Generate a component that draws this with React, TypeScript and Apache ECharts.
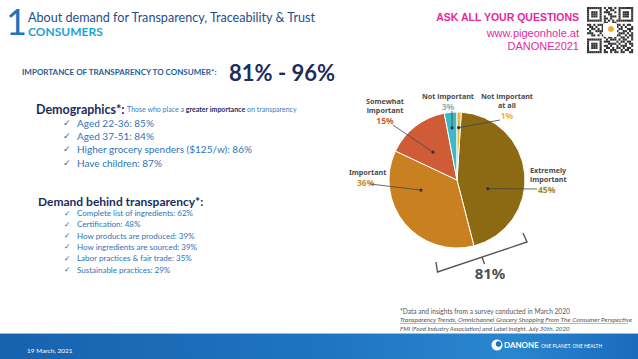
import React, { useEffect, useRef } from "react";
import * as echarts from "echarts";

// ---- data ----
const sliceNames = ["Extremely important", "Important", "Somewhat important", "Not important", "Not important at all"];
const sliceValues = [45, 36, 15, 3, 1];
const sliceLabels = [
  ["Extremely", "important"],
  ["Important"],
  ["Somewhat", "important"],
  ["Not important"],
  ["Not important", "at all"],
];
const bracketLabel = "81%";
const demographics = ["Aged 22-36: 85%", "Aged 37-51: 84%", "Higher grocery spenders ($125/w): 86%", "Have children: 87%"];
const demandItems = [
  "Complete list of ingredients: 62%",
  "Certification: 48%",
  "How products are produced: 39%",
  "How ingredients are sourced: 39%",
  "Labor practices & fair trade: 35%",
  "Sustainable practices: 29%",
];

// ---- style / layout ----
const sliceColors = ["#8C6A14", "#C98021", "#CF5C36", "#3DBAC8", "#F0B232"];
const pctColors = ["#A4862A", "#D08A2E", "#D2603A", "#93AEB4", "#F0B232"];
const CX = 457, CY = 180, R = 68, START = 86.4;
const dotShift = [-21, -24, 3, 0, 0];
const dotR = [0.47, 0.55, 0.54, 0.77, 0.77];
const lineEnds = [[537, 189], [370, 184], [393, 125], [452, 111], [500, 120]];
const labelPos = [
  { x: 530, y: 166, align: "left" },
  { x: 349, y: 168, align: "left" },
  { x: 385, y: 97, align: "center" },
  { x: 448, y: 92, align: "center" },
  { x: 507, y: 92, align: "center" },
];

const TXT = "Lato, 'Noto Sans', sans-serif";
const QR = [
  "1111111010110101111111",
  "1000001001011001000001",
  "1011101011100101011101",
  "1011101000110001011101",
  "1011101010011101011101",
  "1000001011010001000001",
  "1111111010101011111111",
  "0000000011001100000000",
  "1101011100111011010110",
  "0110100111000110101001",
  "1011010100000101100111",
  "0100111100000010011010",
  "1110001000000101110101",
  "0011010110100011001011",
  "0000000010110100110101",
  "1111111001011101011001",
  "1000001011100010110110",
  "1011101000111101001011",
  "1011101011010010111001",
  "1011101001101011010110",
  "1000001010011100101101",
  "1111111011010110110011",
];

export default function App() {
  const ref = useRef<HTMLDivElement>(null);
  useEffect(() => {
    const chart = echarts.init(ref.current!, null, { renderer: "svg" });
    const total = sliceValues.reduce((a, b) => a + b, 0);
    let cum = 0;
    const mids = sliceValues.map((v) => {
      const m = START - ((cum + v / 2) / total) * 360;
      cum += v;
      return m;
    });
    const dots = mids.map((m, i) => {
      const a = ((m + dotShift[i]) * Math.PI) / 180;
      const r = R * dotR[i];
      return [CX + r * Math.cos(a), CY - r * Math.sin(a)];
    });

    const g: any[] = [];
    const txt = (x: number, y: number, text: string, o: any = {}) =>
      g.push({
        type: "text",
        x,
        y,
        silent: true,
        style: {
          text,
          fill: o.fill || "#2E73B8",
          fontSize: o.size || 10,
          fontWeight: o.weight || "normal",
          fontStyle: o.italic ? "italic" : "normal",
          fontFamily: o.family || TXT,
          align: o.align || "left",
          verticalAlign: "middle",
          rich: o.rich,
        },
      });

    // header
    txt(6, 21, "1", { size: 36, fill: "#1C74BA", weight: "normal", family: "Lato" });
    txt(28, 17, "About demand for Transparency, Traceability & Trust", { size: 12.6, fill: "#1F4E8C" });
    txt(28, 31, "CONSUMERS", { size: 12, fill: "#1DA1D9", weight: "bold" });
    txt(579, 17, "ASK ALL YOUR QUESTIONS", { size: 10.5, fill: "#E5299E", weight: "bold", align: "right", family: "'Liberation Sans', Arial" });
    txt(579, 33, "www.pigeonhole.at", { size: 11, fill: "#E5299E", align: "right", family: "'Liberation Sans', Arial" });
    txt(579, 46, "DANONE2021", { size: 11, fill: "#E5299E", align: "right", family: "'Liberation Sans', Arial" });

    // QR
    const qs = 2.1;
    g.push({ type: "rect", shape: { x: 585, y: 5, width: 50, height: 50 }, style: { fill: "#fff" }, silent: true });
    QR.forEach((row, r) =>
      row.split("").forEach((c, k) => {
        if (c === "1")
          g.push({ type: "rect", silent: true, shape: { x: 587 + k * qs, y: 7 + r * qs, width: qs, height: qs }, style: { fill: "#333" } });
      })
    );
    g.push({ type: "rect", silent: true, shape: { x: 603, y: 23, width: 14, height: 14, r: 2 }, style: { fill: "#fff" } });
    g.push({ type: "circle", silent: true, shape: { cx: 611, cy: 29, r: 3 }, style: { fill: "#F0A830" } });

    // importance
    txt(22, 72, "IMPORTANCE OF TRANSPARENCY TO CONSUMER*:", { size: 8, weight: "bold", fill: "#1F5C99" });
    txt(229, 72, "81% - 96%", { size: 22, weight: "bold", fill: "#1B2D5E" });

    // demographics
    txt(36, 109, "{h|Demographics*:} {s|Those who place a }{b|greater importance}{s| on transparency}", {
      rich: {
        h: { fontSize: 12.5, fontWeight: "bold", fill: "#1B2D5E", fontFamily: TXT },
        s: { fontSize: 7, fill: "#3A7CC0", fontFamily: TXT },
        b: { fontSize: 7, fill: "#1B2D5E", fontWeight: "bold", fontFamily: TXT },
      },
    });
    demographics.forEach((d, i) => {
      const y = 123 + i * 13.2;
      txt(63, y, "✓", { size: 9, fill: "#2A5E9A", family: "'DejaVu Sans'" });
      txt(77, y, d, { size: 10, fill: "#2E73B8" });
    });

    txt(38, 201, "Demand behind transparency*:", { size: 12, weight: "bold", fill: "#1B2D5E" });
    demandItems.forEach((d, i) => {
      const y = 213 + i * 11.3;
      txt(64, y, "✓", { size: 7.5, fill: "#2A5E9A", family: "'DejaVu Sans'" });
      txt(77, y, d, { size: 8, fill: "#2E73B8" });
    });

    // footnote
    txt(400, 311, "*Data and insights from a survey conducted in March 2020", { size: 6.6, fill: "#555" });
    txt(400, 319.5, "Transparency Trends, Omnichannel Grocery Shopping From The Consumer Perspective", { size: 6.55, fill: "#555", italic: true });
    g.push({ type: "line", silent: true, shape: { x1: 400, y1: 323.5, x2: 628, y2: 323.5 }, style: { stroke: "#777", lineWidth: 0.5 } });
    txt(400, 328, "FMI (Food Industry Association) and Label Insight, July 30th, 2020", { size: 6.2, fill: "#555", italic: true });

    // bottom band
    g.push({
      type: "rect",
      silent: true,
      shape: { x: 0, y: 333, width: 638, height: 26 },
      style: {
        fill: new echarts.graphic.LinearGradient(0, 0, 1, 0, [
          { offset: 0, color: "#1762AE" },
          { offset: 0.5, color: "#1F74C0" },
          { offset: 0.8, color: "#2A86CF" },
          { offset: 1, color: "#1A6BBB" },
        ]),
      },
    });
    g.push({ type: "line", silent: true, shape: { x1: 0, y1: 333.5, x2: 638, y2: 333.5 }, style: { stroke: "#8CC2EC", lineWidth: 1 } });
    txt(27, 350, "19 March, 2021", { size: 6.5, fill: "#fff" });
    g.push({ type: "circle", silent: true, shape: { cx: 497, cy: 345, r: 5.5 }, style: { fill: "#fff" } });
    g.push({ type: "circle", silent: true, shape: { cx: 498.5, cy: 344, r: 2.8 }, style: { fill: "#1F74C0" } });
    txt(504, 345, "DANONE", { size: 8, weight: "bold", fill: "#fff" });
    txt(541, 345.5, "ONE PLANET. ONE HEALTH", { size: 4.8, fill: "#fff" });

    // leader lines & dots (pie annotations)
    dots.forEach((d, i) => {
      g.push({ type: "line", silent: true, z: 10, shape: { x1: d[0], y1: d[1], x2: lineEnds[i][0], y2: lineEnds[i][1] }, style: { stroke: "#444", lineWidth: 0.8 } });
      g.push({ type: "circle", silent: true, z: 10, shape: { cx: d[0], cy: d[1], r: 1.6 }, style: { fill: "#333" } });
    });

    // bracket
    g.push({
      type: "polyline",
      silent: true,
      shape: { points: [[436, 262], [437.5, 272], [527, 242], [523, 233]] },
      style: { stroke: "#555", lineWidth: 1.4, fill: null },
    });
    g.push({ type: "line", silent: true, shape: { x1: 482, y1: 257, x2: 484.5, y2: 264 }, style: { stroke: "#555", lineWidth: 1.4 } });
    txt(490, 273, bracketLabel, { size: 15, weight: "bold", fill: "#505050", align: "center", family: "'Noto Sans'" });

    const data = sliceValues.map((v, i) => {
      const lines = sliceLabels[i].map((l) => `{n|${l}}`).join("\n");
      return {
        name: sliceNames[i],
        value: v,
        itemStyle: { color: sliceColors[i] },
        label: {
          formatter: `${lines}\n{p${i}|${v}%}`,
        },
      };
    });
    const rich: any = { n: { fontSize: 7.2, fontWeight: "bold", color: "#4A4A4A", lineHeight: 8.5, fontFamily: "'Noto Sans'" } };
    sliceValues.forEach((_, i) => {
      rich["p" + i] = {
        fontSize: 8.5,
        fontWeight: "bold",
        color: pctColors[i],
        lineHeight: 12,
        fontFamily: "'Noto Sans'",
        padding: labelPos[i].align === "left" ? [0, 0, 0, 8] : 0,
      };
    });

    chart.setOption({
      animation: false,
      graphic: g,
      series: [
        {
          type: "pie",
          center: [CX, CY],
          radius: R,
          startAngle: START,
          clockwise: true,
          itemStyle: { borderColor: "#fff", borderWidth: 1 },
          label: { show: true, position: "outside", rich },
          labelLine: { show: false },
          labelLayout: (p: any) => {
            const lp = labelPos[p.dataIndex];
            return { x: lp.x, y: lp.y, align: lp.align, verticalAlign: "top" };
          },
          emphasis: { disabled: true },
          data,
        },
      ],
    });
    return () => chart.dispose();
  }, []);
  return <div ref={ref} style={{ position: "fixed", left: 0, top: 0, width: 638, height: 359, background: "#fff" }} />;
}
